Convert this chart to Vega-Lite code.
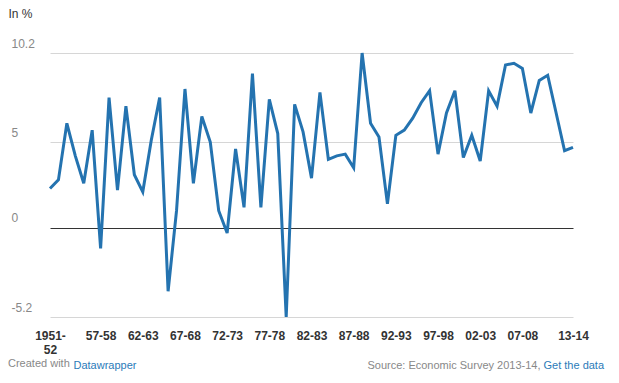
{
  "$schema": "https://vega.github.io/schema/vega-lite/v6.json",
  "width": 565,
  "height": 264,
  "autosize": "none",
  "padding": {"left": 8, "top": 53, "right": 46, "bottom": 66},
  "background": "white",
  "config": {"font": "Liberation Sans", "view": {"stroke": null}},
  "title": {"text": "Created with", "orient": "bottom", "anchor": "start", "frame": "group", "fontSize": 11, "fontWeight": "normal", "color": "#888888", "baseline": "alphabetic", "offset": -3},
  "data": {"values": [
    {"year": "1951-52", "growth": 2.3},
    {"year": "1952-53", "growth": 2.8},
    {"year": "1953-54", "growth": 6.1},
    {"year": "1954-55", "growth": 4.2},
    {"year": "1955-56", "growth": 2.6},
    {"year": "1956-57", "growth": 5.7},
    {"year": "1957-58", "growth": -1.2},
    {"year": "1958-59", "growth": 7.6},
    {"year": "1959-60", "growth": 2.2},
    {"year": "1960-61", "growth": 7.1},
    {"year": "1961-62", "growth": 3.1},
    {"year": "1962-63", "growth": 2.1},
    {"year": "1963-64", "growth": 5.1},
    {"year": "1964-65", "growth": 7.6},
    {"year": "1965-66", "growth": -3.7},
    {"year": "1966-67", "growth": 1.0},
    {"year": "1967-68", "growth": 8.1},
    {"year": "1968-69", "growth": 2.6},
    {"year": "1969-70", "growth": 6.5},
    {"year": "1970-71", "growth": 5.0},
    {"year": "1971-72", "growth": 1.0},
    {"year": "1972-73", "growth": -0.3},
    {"year": "1973-74", "growth": 4.6},
    {"year": "1974-75", "growth": 1.2},
    {"year": "1975-76", "growth": 9.0},
    {"year": "1976-77", "growth": 1.2},
    {"year": "1977-78", "growth": 7.5},
    {"year": "1978-79", "growth": 5.5},
    {"year": "1979-80", "growth": -5.2},
    {"year": "1980-81", "growth": 7.2},
    {"year": "1981-82", "growth": 5.6},
    {"year": "1982-83", "growth": 2.9},
    {"year": "1983-84", "growth": 7.9},
    {"year": "1984-85", "growth": 4.0},
    {"year": "1985-86", "growth": 4.2},
    {"year": "1986-87", "growth": 4.3},
    {"year": "1987-88", "growth": 3.5},
    {"year": "1988-89", "growth": 10.2},
    {"year": "1989-90", "growth": 6.1},
    {"year": "1990-91", "growth": 5.3},
    {"year": "1991-92", "growth": 1.4},
    {"year": "1992-93", "growth": 5.4},
    {"year": "1993-94", "growth": 5.7},
    {"year": "1994-95", "growth": 6.4},
    {"year": "1995-96", "growth": 7.3},
    {"year": "1996-97", "growth": 8.0},
    {"year": "1997-98", "growth": 4.3},
    {"year": "1998-99", "growth": 6.7},
    {"year": "1999-00", "growth": 8.0},
    {"year": "2000-01", "growth": 4.1},
    {"year": "2001-02", "growth": 5.4},
    {"year": "2002-03", "growth": 3.9},
    {"year": "2003-04", "growth": 8.0},
    {"year": "2004-05", "growth": 7.1},
    {"year": "2005-06", "growth": 9.5},
    {"year": "2006-07", "growth": 9.6},
    {"year": "2007-08", "growth": 9.3},
    {"year": "2008-09", "growth": 6.7},
    {"year": "2009-10", "growth": 8.6},
    {"year": "2010-11", "growth": 8.9},
    {"year": "2011-12", "growth": 6.7},
    {"year": "2012-13", "growth": 4.5},
    {"year": "2013-14", "growth": 4.7}
  ]},
  "layer": [
    {
      "mark": {"type": "line", "color": "#2473b0", "strokeWidth": 3},
      "encoding": {
        "x": {
          "field": "year", "type": "ordinal", "sort": null,
          "scale": {"type": "point", "range": [42, 565], "padding": 0},
          "axis": {
            "values": ["1951-52", "1957-58", "1962-63", "1967-68", "1972-73", "1977-78", "1982-83", "1987-88", "1992-93", "1997-98", "2002-03", "2007-08", "2013-14"],
            "labelExpr": "datum.value == '1951-52' ? ['1951-', '52'] : substring(datum.value, 2)",
            "labelFontWeight": "bold", "labelFontSize": 12, "labelColor": "#333333",
            "labelPadding": 13, "labelLineHeight": 14, "labelBaseline": "top", "labelAngle": 0,
            "labelOverlap": false, "labelFlush": false,
            "ticks": false, "tickSize": 0, "domain": false, "grid": false,
            "title": "Source: Economic Survey 2013-14,", "titleFontSize": 11, "titleFontWeight": "normal",
            "titleColor": "#888888", "titleX": 532, "titleY": 51, "titleAlign": "right", "titleBaseline": "alphabetic"
          }
        },
        "y": {
          "field": "growth", "type": "quantitative",
          "scale": {"domain": [-5.2, 10.2], "nice": false, "zero": false},
          "axis": {
            "values": [-5.2, 0, 5, 10.2],
            "labelExpr": "'' + datum.value",
            "labelAlign": "left", "labelBaseline": "alphabetic", "labelPadding": -3, "labelOffset": -6,
            "labelFontSize": 12, "labelColor": "#888888", "labelFlush": false, "labelOverlap": false,
            "ticks": false, "tickSize": 0, "domain": false, "grid": true,
            "gridColor": {"condition": {"test": "datum.value === 0", "value": "#333333"}, "value": "#d6d6d6"},
            "gridWidth": 1,
            "title": "In %", "titleAngle": 0, "titleAlign": "left", "titleBaseline": "alphabetic",
            "titleX": 0, "titleY": -36, "titleFontSize": 12, "titleFontWeight": "normal", "titleColor": "#333333"
          }
        }
      }
    },
    {
      "mark": {"type": "line", "opacity": 0},
      "encoding": {
        "x": {
          "field": "year", "type": "ordinal", "sort": null,
          "axis": {
            "orient": "top", "labels": false, "ticks": false, "domain": false, "grid": false,
            "title": "Get the data", "titleX": 535, "titleY": 315, "titleAlign": "left", "titleBaseline": "alphabetic",
            "titleFontSize": 11, "titleFontWeight": "normal", "titleColor": "#2b7bb9"
          }
        },
        "y": {
          "field": "growth", "type": "quantitative",
          "axis": {
            "orient": "right", "labels": false, "ticks": false, "domain": false, "grid": false,
            "title": "Datawrapper", "titleAngle": 0, "titleX": -500, "titleY": 315, "titleAlign": "left", "titleBaseline": "alphabetic",
            "titleFontSize": 11, "titleFontWeight": "normal", "titleColor": "#2b7bb9"
          }
        }
      }
    }
  ],
  "resolve": {"axis": {"x": "independent", "y": "independent"}}
}
